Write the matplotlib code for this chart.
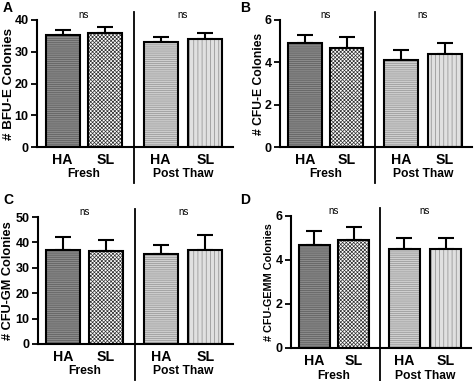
import matplotlib
matplotlib.use("Agg")
import matplotlib.pyplot as plt
from matplotlib.lines import Line2D

plt.rcParams['font.family'] = ['Liberation Sans', 'DejaVu Sans']
plt.rcParams['hatch.linewidth'] = 0.5

categories = ["HA", "SL", "HA", "SL"]
groups = ["Fresh", "Post Thaw"]

panel_letters = ["A", "B", "C", "D"]
ylabels = ["# BFU-E Colonies", "# CFU-E Colonies", "# CFU-GM Colonies", "# CFU-GEMM Colonies"]
ymax = [40, 6, 50, 6]
ystep = [10, 2, 10, 2]

bfue_mean = [35.3, 36.0, 33.0, 34.0]
bfue_err = [1.5, 1.8, 1.5, 2.0]
cfue_mean = [4.9, 4.7, 4.1, 4.4]
cfue_err = [0.4, 0.5, 0.5, 0.5]
cfugm_mean = [37.0, 36.5, 35.5, 37.0]
cfugm_err = [5.0, 4.3, 3.5, 6.0]
gemm_mean = [4.7, 4.9, 4.5, 4.5]
gemm_err = [0.6, 0.6, 0.5, 0.5]

means = [bfue_mean, cfue_mean, cfugm_mean, gemm_mean]
errs = [bfue_err, cfue_err, cfugm_err, gemm_err]
sig_labels = ["ns", "ns"]

W, H = 474, 381
fig = plt.figure(figsize=(W / 100, H / 100), dpi=100)

# axes rects in pixels: left, top, right, bottom
rects = [(37, 20, 233, 147), (280, 20, 472, 147), (38, 217, 233, 344), (291, 216, 471, 348)]
ylabel_x = [9, 259, 8, 269]
ylabel_size = [9.6, 8.7, 9.2, 7.8]
letter_pos = [(3, 1), (240, 1), (3, 193), (240, 193)]

positions = [0, 1, 2.3, 3.35]
xlim = (-0.6, 4.0)
divider = 1.68

styles = [
    dict(face='#8a8a8a', hatch='--------', hc='#5c5c5c'),
    dict(face='#ffffff', hatch='xxxxxxxxx', hc='#303030'),
    dict(face='#cfcfcf', hatch='--------', hc='#949494'),
    dict(face='#e0e0e0', hatch='||||', hc='#8c8c8c'),
]

for i in range(4):
    l, t, r, b = rects[i]
    ax = fig.add_axes([l / W, 1 - b / H, (r - l) / W, (b - t) / H])
    for j in range(4):
        st = styles[j]
        ax.bar(positions[j], means[i][j], width=0.8, color=st['face'], hatch=st['hatch'],
               edgecolor=st['hc'], linewidth=0, zorder=2)
        ax.bar(positions[j], means[i][j], width=0.8, fill=False, edgecolor='black',
               linewidth=1.5, zorder=3)
        ax.errorbar(positions[j], means[i][j], yerr=[[0], [errs[i][j]]], fmt='none',
                    ecolor='black', elinewidth=1.5, capsize=6, capthick=1.5, zorder=1)
    ax.set_xlim(*xlim)
    ax.set_ylim(0, ymax[i])
    ax.set_yticks(range(0, ymax[i] + 1, ystep[i]))
    ax.set_xticks(positions)
    ax.set_xticklabels(categories, fontsize=10.2, fontweight='bold')
    ax.tick_params(axis='x', length=0, pad=4.5)
    ax.tick_params(axis='y', length=4, width=1.3, labelsize=9, pad=2)
    for lab in ax.get_yticklabels():
        lab.set_fontweight('bold')
    ax.spines['top'].set_visible(False)
    ax.spines['right'].set_visible(False)
    ax.spines['left'].set_linewidth(1.5)
    ax.spines['bottom'].set_linewidth(1.5)
    ax.set_ylabel(ylabels[i], fontsize=ylabel_size[i], fontweight='bold')
    ax.yaxis.set_label_coords((ylabel_x[i] - l) / (r - l), 0.5)
    ax.yaxis.label.set_va('center')

    trans = ax.get_xaxis_transform()
    ax.add_line(Line2D([divider, divider], [-0.28, 1.06], transform=trans,
                       color='black', linewidth=1.3, clip_on=False))
    gy = -0.215
    ax.text((positions[0] + positions[1]) / 2, gy, groups[0], transform=trans,
            ha='center', va='center', fontsize=8.7, fontweight='bold')
    ax.text((positions[2] + positions[3]) / 2, gy, groups[1], transform=trans,
            ha='center', va='center', fontsize=8.7, fontweight='bold')
    ax.text((positions[0] + positions[1]) / 2, 1.0, sig_labels[0], transform=trans,
            ha='center', va='bottom', fontsize=7)
    ax.text((positions[2] + positions[3]) / 2, 1.0, sig_labels[1], transform=trans,
            ha='center', va='bottom', fontsize=7)

    lx, ly = letter_pos[i]
    fig.text(lx / W, 1 - ly / H, panel_letters[i], ha='left', va='top',
             fontsize=10, fontweight='bold')

fig.savefig('out.png', dpi=100)
